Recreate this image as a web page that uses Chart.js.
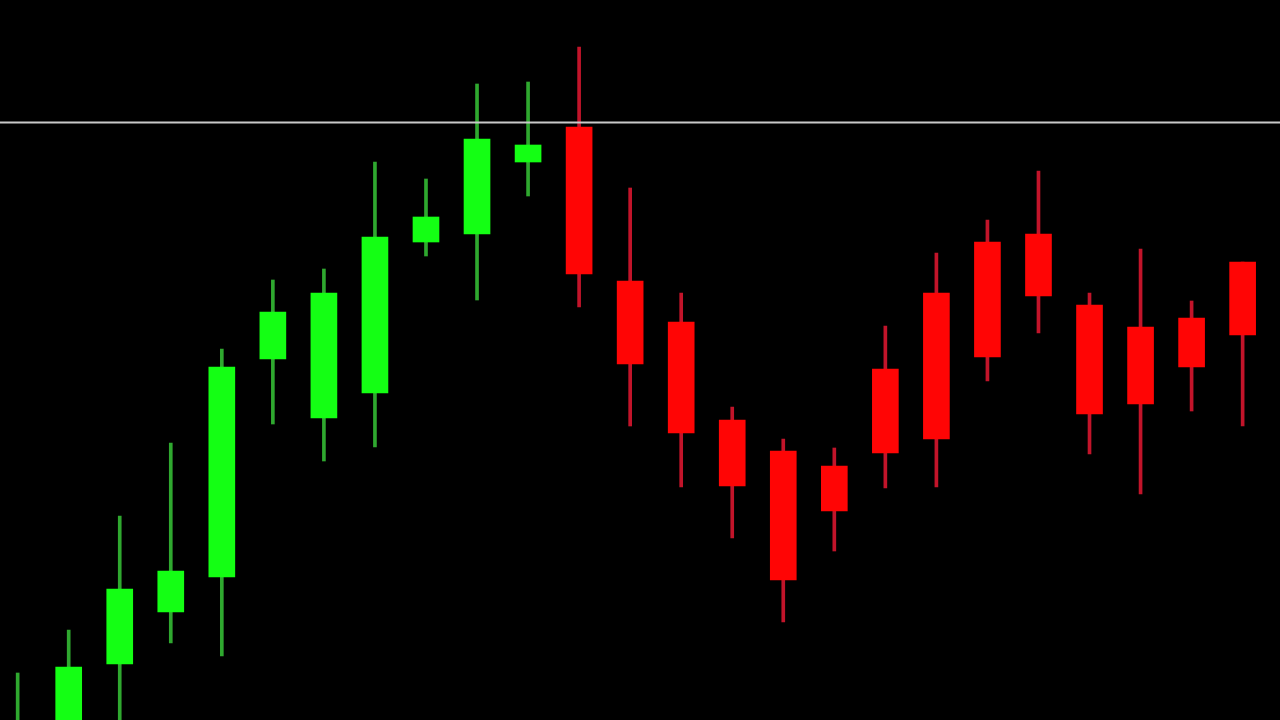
<!DOCTYPE html>
<html lang="en">
<head>
    <meta charset="UTF-8">
    <title>Candles</title>
    <script src="https://cdn.jsdelivr.net/npm/chart.js@4.4.1/dist/chart.umd.min.js"></script>
    <style>
        html, body { margin: 0; padding: 0; background: #000; overflow: hidden; }
        canvas { display: block; }
    </style>
</head>
<body>
    <canvas id="candles" width="1280" height="720"></canvas>

    <script>
        // one entry per candle, left to right (first one is cut off at the bottom)
        const candleIndex = [0, 1, 2, 3, 4, 5, 6, 7, 8, 9, 10, 11, 12, 13, 14, 15, 16, 17, 18, 19, 20, 21, 22, 23, 24];
        const openPrices  = [-40, -20, 56, 108, 143, 361, 302, 327, 478, 486, 558, 593, 439, 398, 300, 269, 254, 351, 427, 478, 486, 415, 393, 402, 458];
        const highPrices  = [47, 90, 204, 277, 371, 440, 451, 558, 541, 636, 638, 673, 532, 427, 313, 281, 272, 394, 467, 500, 549, 427, 471, 419, 458];
        const lowPrices   = [-60, -50, -20, 77, 64, 296, 259, 273, 464, 420, 524, 413, 294, 233, 182, 98, 169, 232, 233, 339, 387, 266, 226, 309, 294];
        const closePrices = [-10, 53, 131, 149, 353, 408, 427, 483, 503, 581, 575, 446, 356, 287, 234, 140, 209, 267, 281, 363, 424, 306, 316, 353, 385];
        // candles drawn green up to here, red after
        const trend = ["up", "up", "up", "up", "up", "up", "up", "up", "up", "up", "up",
                       "down", "down", "down", "down", "down", "down", "down", "down", "down", "down", "down", "down", "down", "down"];
        const levelLine = 598;

        const bodyColor = { up: "#14ff14", down: "#ff0505" };
        const wickColor = { up: "#2fa82f", down: "#c2142a" };

        const levelPlugin = {
            id: "levelLine",
            afterDatasetsDraw(chart) {
                const { ctx, chartArea, scales } = chart;
                const y = Math.round(scales.y.getPixelForValue(levelLine)) + 0.5;
                ctx.save();
                ctx.strokeStyle = "#c9c9c9";
                ctx.lineWidth = 2;
                ctx.beginPath();
                ctx.moveTo(chartArea.left, y);
                ctx.lineTo(chartArea.right, y);
                ctx.stroke();
                ctx.restore();
            }
        };

        document.addEventListener("DOMContentLoaded", () => {
            const ctx = document.getElementById("candles").getContext("2d");

            const bodies = candleIndex.map((x, i) => ({ x: x, y: [openPrices[i], closePrices[i]] }));
            const wicks = candleIndex.map((x, i) => ({ x: x, y: [lowPrices[i], highPrices[i]] }));

            new Chart(ctx, {
                type: "bar",
                data: {
                    datasets: [
                        {
                            label: "body",
                            data: bodies,
                            backgroundColor: trend.map(t => bodyColor[t]),
                            barThickness: 26,
                            borderWidth: 0,
                            grouped: false,
                            order: 0
                        },
                        {
                            label: "wick",
                            data: wicks,
                            backgroundColor: trend.map(t => wickColor[t]),
                            barThickness: 3,
                            borderWidth: 0,
                            grouped: false,
                            order: 1
                        }
                    ]
                },
                options: {
                    responsive: false,
                    animation: false,
                    layout: { padding: 0 },
                    plugins: {
                        legend: { display: false },
                        tooltip: { enabled: false }
                    },
                    scales: {
                        x: {
                            type: "linear",
                            display: false,
                            offset: false,
                            stacked: false,
                            min: -0.346,
                            max: 24.732
                        },
                        y: {
                            display: false,
                            min: 0,
                            max: 720
                        }
                    }
                },
                plugins: [levelPlugin]
            });
        });
    </script>
</body>
</html>
